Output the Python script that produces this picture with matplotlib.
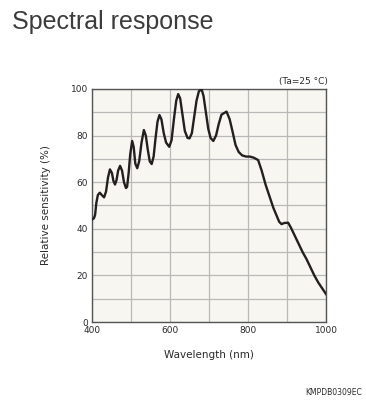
import matplotlib
matplotlib.use("Agg")
import matplotlib.pyplot as plt

wavelength = [400, 405, 408, 411, 415, 420, 425, 431, 436, 441, 446, 451, 455, 459, 463, 467,
              472, 477, 482, 487, 490, 494, 498, 503, 507, 511, 516, 521, 527, 533, 538, 543,
              548, 553, 558, 563, 568, 573, 578, 584, 590, 598, 604, 610, 616, 621, 626, 632,
              638, 645, 650, 656, 662, 668, 674, 681, 686, 692, 698, 704, 711, 718, 725, 732,
              740, 745, 753, 760, 768, 776, 785, 795, 805, 815, 826, 835, 845, 855, 865, 875,
              880, 886, 893, 903, 910, 920, 930, 940, 950, 960, 970, 980, 990, 1000]
sensitivity = [44, 44.5, 46, 51, 54.5, 55.5, 54.5, 53.5, 56, 62, 65.5, 64, 60.5, 59, 61, 65,
               67, 65, 60, 57.5, 58, 64, 72, 77.7, 75, 68, 66, 69, 77, 82.4, 80, 74,
               69, 67.8, 71, 79, 86, 88.8, 87, 81, 77, 75.2, 78, 87, 95, 97.8, 96, 89,
               82, 79, 78.8, 81, 88, 95, 99, 99.9, 97, 90, 83, 79, 77.7, 80, 85, 89,
               89.8, 90.3, 87, 82, 76, 73, 71.5, 71, 71, 70.5, 69.5, 65, 59, 54, 49, 45,
               43, 42, 42.5, 42.6, 40.5, 37, 33.5, 30, 27, 23.5, 20, 17, 14.5, 12]
xticks = [400, 600, 800, 1000]
yticks = [0, 20, 40, 60, 80, 100]

fig = plt.figure(figsize=(3.66, 4.0), dpi=100)
ax = fig.add_axes([92/366, 78/400, 234/366, 233/400])
ax.set_facecolor("#f8f6f0")
ax.plot(wavelength, sensitivity, color="#231f20", lw=1.7, solid_joinstyle="round", zorder=3)
ax.set_xlim(400, 1000)
ax.set_ylim(0, 100)
ax.set_xticks(range(400, 1001, 100))
ax.set_yticks(range(0, 101, 10))
ax.grid(True, color="#b9b9b9", lw=0.9)
ax.set_xticklabels([str(v) if v in xticks else "" for v in range(400, 1001, 100)])
ax.set_yticklabels([str(v) if v in yticks else "" for v in range(0, 101, 10)])
ax.tick_params(length=0, labelsize=6.5, colors="#2a2a2a", pad=3)
for s in ax.spines.values():
    s.set_color("#555555")
    s.set_linewidth(1.0)
ax.set_xlabel("Wavelength (nm)", fontsize=7.5, color="#2a2a2a", labelpad=11)
ax.set_ylabel("Relative sensitivity (%)", fontsize=7.5, color="#2a2a2a", labelpad=14)

fig.text(12/366, 1 - 29/400, "Spectral response", fontsize=18, color="#3c3c3c",
         family="Liberation Sans", ha="left", va="baseline")
fig.text(328/366, 1 - 84/400, "(Ta=25 °C)", fontsize=6.5, color="#2a2a2a", ha="right", va="baseline")
fig.text(362/366, 1 - 395/400, "KMPDB0309EC", fontsize=5.5, color="#2a2a2a", ha="right", va="baseline")

fig.savefig("out.png", dpi=100)
